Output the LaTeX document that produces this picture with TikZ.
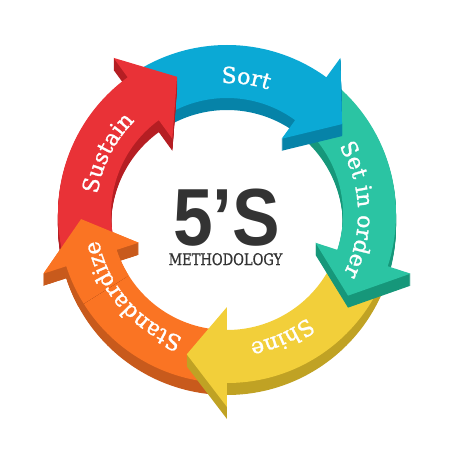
\documentclass[tikz,border=0pt]{standalone}
\usepackage{fontspec}
\setmainfont{DejaVu Serif}
\newfontfamily\bigfont{Liberation Sans}
\newfontfamily\slabfont{DejaVu Serif}[FakeBold=1.2]
\usetikzlibrary{decorations.text}
\definecolor{sortc}{HTML}{0BA9D5}\definecolor{sortd}{HTML}{0683A8}
\definecolor{setc}{HTML}{2BC4A3}\definecolor{setd}{HTML}{16977A}
\definecolor{shinec}{HTML}{F2CF3A}\definecolor{shined}{HTML}{C0A224}
\definecolor{standc}{HTML}{FA7423}\definecolor{standd}{HTML}{C85A1C}
\definecolor{sustc}{HTML}{E93237}\definecolor{sustd}{HTML}{B51E23}
\definecolor{inkc}{HTML}{333333}
% one ring arrow, head base at angle #1
\newcommand{\ringarrow}[1]{(#1+72:169pt) arc[start angle=#1+72,end angle=#1,radius=169pt] -- (#1:193pt) -- (#1-16:146pt) -- (#1:93pt) -- (#1:116pt) arc[start angle=#1,end angle=#1+72,radius=116pt] -- cycle}
\newcommand{\solidarrow}[3]{\foreach \d in {1,...,12} \fill[#3,yshift=-\d pt] \ringarrow{#1}; \fill[#2] \ringarrow{#1};}
\newcommand{\labelfont}{\color{white}\slabfont\fontsize{22}{22}\selectfont}
\begin{document}
\begin{tikzpicture}
[x=1pt,y=1pt,arclabel/.style={decorate,decoration={text along path,text align=center,text={|\labelfont|#1}}}]
\useasboundingbox (-227,-236) rectangle (223,214);
\solidarrow{198}{standc}{standd} \solidarrow{-90}{shinec}{shined} \solidarrow{-18}{setc}{setd}
\solidarrow{54}{sortc}{sortd} \solidarrow{126}{sustc}{sustd}
\begin{scope}
\clip (0,0) -- (172:260pt) arc[start angle=172,end angle=212,radius=260pt] -- cycle;
\solidarrow{198}{standc}{standd}
\end{scope}
\path[arclabel=Sort] (122:131pt) arc[start angle=122,end angle=42,radius=131pt];
\path[arclabel=Set in order] (42:131pt) arc[start angle=42,end angle=-38,radius=131pt];
\path[arclabel=Shine] (-26:131pt) arc[start angle=-26,end angle=-106,radius=131pt];
\path[arclabel=Standardize] (-99:131pt) arc[start angle=-99,end angle=-179,radius=131pt];
\path[arclabel=Sustain] (193:131pt) arc[start angle=193,end angle=113,radius=131pt];
\node[anchor=base,inner sep=0,text depth=0pt,xscale=0.88,text=inkc,font=\bigfont\bfseries\fontsize{81}{81}\selectfont] (five) at (-0.5,-31) {5’S};
\node[anchor=base,inner sep=0,text depth=0pt,xscale=0.82,text=inkc,font=\slabfont\fontsize{16}{16}\selectfont] (method) at (-1.5,-51) {METHODOLOGY};
\end{tikzpicture}
\end{document}
